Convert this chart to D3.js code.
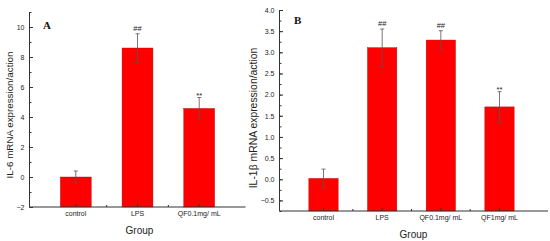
<!DOCTYPE html>
<html>
<head>
<meta charset="utf-8">
<script src="https://cdn.jsdelivr.net/npm/d3@7"></script>
<style>
  body { margin: 0; background: #fff; }
  svg { display: block; font-family: "Liberation Sans", Arial, sans-serif; }
  .bar { fill: #ff0000; stroke: #b00000; stroke-width: 0.4; }
  .err { stroke: #555; stroke-width: 0.8; fill: none; }
  .axis line, .axis path { stroke: #333; }
</style>
</head>
<body>
<svg id="chart" width="550" height="241"></svg>
<script>
// panel A data
const groupsA = ["control", "LPS", "QF0.1mg/ mL"];
const meanA = [0, 8.6, 4.57];
const errA = [0.4, 0.95, 0.73];
const markA = ["", "##", "**"];
const ticksA = [-2, 0, 2, 4, 6, 8, 10];

// panel B data
const groupsB = ["control", "LPS", "QF0.1mg/ mL", "QF1mg/ mL"];
const meanB = [0.02, 3.11, 3.29, 1.71];
const errB = [0.22, 0.44, 0.22, 0.36];
const markB = ["", "##", "##", "**"];
const ticksB = [-0.5, 0, 0.5, 1, 1.5, 2, 2.5, 3, 3.5, 4];

let svg = d3.select("#chart");

function drawPanel(p) {
    let g = svg.append("g");

    let x = d3.scaleBand().domain(p.groups).range([p.left, p.right]).padding(0.5);
    let y = d3.scaleLinear().domain(p.domain).range([p.bottom, p.top]);
    let base = p.domain[0];

    // bars start from the bottom of the axis, like Origin does
    g.selectAll(".bar").data(p.groups).enter().append("rect")
        .attr("class", "bar")
        .attr("x", d => x(d))
        .attr("width", x.bandwidth())
        .attr("y", (d, i) => y(p.mean[i]))
        .attr("height", (d, i) => y(base) - y(p.mean[i]));

    // error bars
    let eb = g.selectAll(".eb").data(p.groups).enter().append("g");
    let cx = d => x(d) + x.bandwidth() / 2;
    eb.append("line").attr("class", "err")
        .attr("x1", cx).attr("x2", cx)
        .attr("y1", (d, i) => y(p.mean[i] + p.err[i]))
        .attr("y2", (d, i) => y(p.mean[i] - p.err[i]));
    eb.append("line").attr("class", "err")
        .attr("x1", d => cx(d) - 2).attr("x2", d => cx(d) + 2)
        .attr("y1", (d, i) => y(p.mean[i] + p.err[i]))
        .attr("y2", (d, i) => y(p.mean[i] + p.err[i]));
    eb.append("line").attr("class", "err")
        .attr("x1", d => cx(d) - 2).attr("x2", d => cx(d) + 2)
        .attr("y1", (d, i) => y(p.mean[i] - p.err[i]))
        .attr("y2", (d, i) => y(p.mean[i] - p.err[i]));

    // significance marks
    g.selectAll(".mark").data(p.groups).enter().append("text")
        .attr("x", cx)
        .attr("y", (d, i) => y(p.mean[i] + p.err[i]) - (p.marks[i] === "**" ? 0 : 3))
        .attr("text-anchor", "middle")
        .attr("font-size", 7.5)
        .attr("fill", "#222")
        .text((d, i) => p.marks[i]);

    // y axis, ticks inward
    let minor = d3.range(p.domain[0], p.domain[1] + 1e-9, p.minorStep);
    g.append("g").attr("class", "axis")
        .attr("transform", `translate(${p.left},0)`)
        .call(d3.axisRight(y).tickValues(minor).tickSize(2).tickFormat(""))
        .call(a => a.select(".domain").remove());
    let ya = g.append("g").attr("class", "axis")
        .attr("transform", `translate(${p.left},0)`)
        .call(d3.axisRight(y).tickValues(p.ticks).tickSizeInner(3.5).tickSizeOuter(0).tickFormat(p.fmt));
    ya.selectAll("text").attr("x", -5).attr("text-anchor", "end")
        .attr("font-size", 7).attr("fill", "#222").attr("font-family", "Liberation Sans, Arial, sans-serif");
    ya.select(".domain").attr("d", `M0,${p.top}V${p.bottom}`);

    // x axis
    g.append("line")
        .attr("x1", p.left).attr("x2", p.xEnd)
        .attr("y1", p.bottom).attr("y2", p.bottom)
        .attr("stroke", "#333");
    g.selectAll(".xt").data(p.groups).enter().append("line")
        .attr("x1", cx).attr("x2", cx)
        .attr("y1", p.bottom).attr("y2", p.bottom - 3)
        .attr("stroke", "#333");
    g.selectAll(".xm").data(p.groups.slice(1)).enter().append("line")
        .attr("x1", d => x(d) - x.step() * 0.25).attr("x2", d => x(d) - x.step() * 0.25)
        .attr("y1", p.bottom).attr("y2", p.bottom - 2)
        .attr("stroke", "#333");
    g.selectAll(".xl").data(p.groups).enter().append("text")
        .attr("x", cx).attr("y", p.bottom + 9)
        .attr("text-anchor", "middle")
        .attr("font-size", 7).attr("fill", "#222")
        .text(d => d);

    // titles
    g.append("text")
        .attr("x", (p.left + p.right) / 2 + 2).attr("y", p.bottom + 27)
        .attr("text-anchor", "middle").attr("font-size", 10).attr("fill", "#222")
        .text("Group");
    g.append("text")
        .attr("transform", `translate(${p.yLabelX},${p.yLabelY}) rotate(-90)`)
        .attr("text-anchor", "middle").attr("font-size", p.yLabelSize).attr("fill", "#222")
        .text(p.yLabel);
    g.append("text")
        .attr("x", p.letterX).attr("y", p.letterY)
        .attr("font-family", "Liberation Serif, Times New Roman, serif")
        .attr("font-weight", "bold").attr("font-size", 11).attr("fill", "#111")
        .text(p.letter);
}

drawPanel({
    groups: groupsA, mean: meanA, err: errA, marks: markA, ticks: ticksA,
    domain: [-2, 11], minorStep: 1, fmt: d3.format("d"),
    left: 29.5, right: 245.5, xEnd: 245.5, top: 12, bottom: 207,
    yLabel: "IL-6 mRNA expression/action", yLabelX: 13, yLabelY: 115, yLabelSize: 9.8,
    letter: "A", letterX: 43, letterY: 29
});

drawPanel({
    groups: groupsB, mean: meanB, err: errB, marks: markB, ticks: ticksB,
    domain: [-0.75, 4], minorStep: 0.25, fmt: d3.format(".1f"),
    left: 279.5, right: 543.5, xEnd: 548, top: 10, bottom: 211,
    yLabel: "IL-1\u03b2 mRNA expression/action", yLabelX: 256.5, yLabelY: 118, yLabelSize: 10.4,
    letter: "B", letterX: 294, letterY: 24
});
</script>
</body>
</html>
